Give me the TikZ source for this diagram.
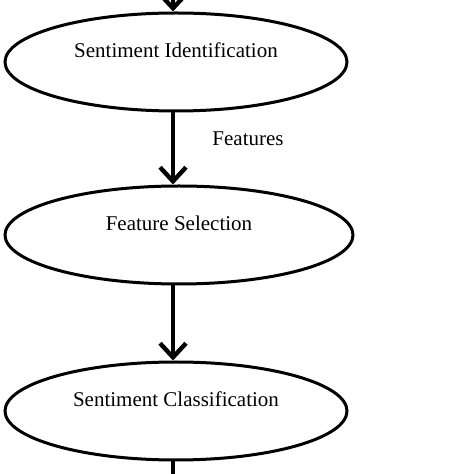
\documentclass[tikz,border=0pt]{standalone}
\usepackage{fontspec}
\setmainfont{Liberation Serif}
\usetikzlibrary{shapes.geometric,arrows.meta}
\begin{document}
\begin{tikzpicture}[x=1pt,y=1pt,
  ell/.style={draw, ellipse, line width=3pt, inner sep=0pt, minimum width=#1, minimum height=98pt},
  ell/.default=342pt,
  flow/.style={line width=4.4pt, -{Straight Barb[length=14pt,width=26pt,line width=4.4pt]}},
  txt/.style={font=\fontsize{21}{24}\selectfont}]
\useasboundingbox (0,0) rectangle (474,474);
\node[ell, label={[txt,yshift=12pt]center:Sentiment Identification}] (e1) at (176,412) {};
\node[ell=348pt, label={[txt,yshift=12pt]center:Feature Selection}] (e2) at (179,239) {};
\node[ell, label={[txt,yshift=12pt]center:Sentiment Classification}] (e3) at (176,63) {};
\coordinate (top) at (173,474);
\coordinate (bot) at (173,0);
\node[txt] (feat) at (248,335) {Features};
\draw[flow] (top) -- (173,412 |- e1.north);
\draw[flow] (173,412 |- e1.south) -- (173,239 |- e2.north);
\draw[flow] (173,239 |- e2.south) -- (173,63 |- e3.north);
\draw[line width=4.4pt] (173,63 |- e3.south) -- (bot);
\end{tikzpicture}
\end{document}
